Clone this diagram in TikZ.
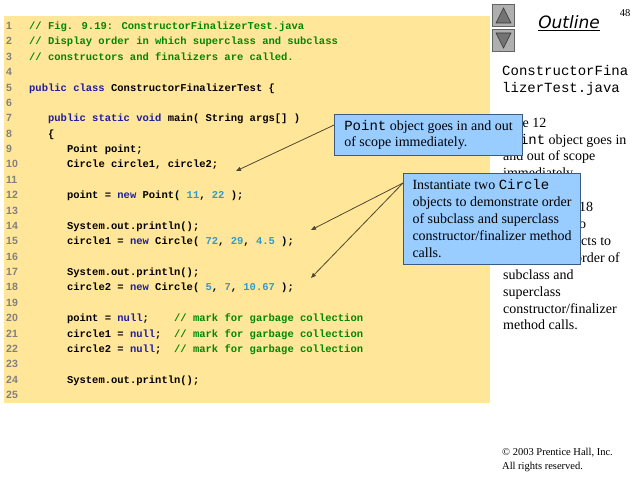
\documentclass[tikz,border=0pt]{standalone}
\usepackage{fontspec}
\setmainfont{Liberation Serif}
\newfontfamily\codefont{Liberation Mono}
\newfontfamily\linefont{Liberation Sans}
\newfontfamily\outfont{DejaVu Sans}
\usetikzlibrary{arrows.meta}

\definecolor{codebg}{RGB}{255,230,153}
\definecolor{cmtgreen}{RGB}{0,136,0}
\definecolor{kwblue}{RGB}{30,30,160}
\definecolor{numteal}{RGB}{51,153,204}
\definecolor{lnumgray}{RGB}{128,128,128}
\definecolor{calloutfill}{RGB}{153,204,255}
\definecolor{calloutedge}{RGB}{60,90,130}
\definecolor{arrowcol}{RGB}{80,72,48}
\definecolor{btnface}{RGB}{175,175,175}
\definecolor{btnedge}{RGB}{100,100,100}
\definecolor{btnmark}{RGB}{115,115,115}

\newcommand{\kw}[1]{\textcolor{kwblue}{#1}}
\newcommand{\cm}[1]{\textcolor{cmtgreen}{#1}}
\newcommand{\nm}[1]{\textcolor{numteal}{#1}}
\newcommand{\mono}[1]{{\codefont #1}}

\tikzset{
  codeline/.style={anchor=base west, inner sep=0pt, font=\codefont\fontsize{10.5}{12}\selectfont\bfseries},
  lnum/.style={anchor=base west, inner sep=0pt, text=lnumgray, font=\linefont\fontsize{10.5}{12}\selectfont\bfseries},
  callout/.style={draw=calloutedge, fill=calloutfill, line width=1pt, align=left, inner xsep=8.5pt, inner ysep=0pt, anchor=north west, font=\fontsize{14}{16.5}\selectfont},
  pointer/.style={draw=arrowcol, line width=0.8pt, -{Triangle[length=5pt,width=4pt]}},
  btnbox/.style={fill=btnface, draw=btnedge, line width=1.2pt},
  btnarrow/.style={fill=btnmark, draw=black!80, line width=0.6pt},
}

\begin{document}
\begin{tikzpicture}[x=1pt,y=-1pt]
    \useasboundingbox (0,0) rectangle (638,478);
    \fill[white] (0,0) rectangle (638,478);

    % code panel
    \fill[codebg] (4,16) rectangle (490,403);

    \foreach \n in {1,...,25}
        \node[lnum] (num\n) at (6,{29.6+(\n-1)*15.375}) {\n};

    \node[codeline] (line1) at (29,29.6) {\cm{// Fig. 9.19: ConstructorFinalizerTest.java}};
    \node[codeline] (line2) at (29,44.975) {\cm{// Display order in which superclass and subclass}};
    \node[codeline] (line3) at (29,60.35) {\cm{// constructors and finalizers are called.}};
    \node[codeline] (line5) at (29,91.1) {\kw{public class} ConstructorFinalizerTest \{};
    \node[codeline] (line7) at (47.9,121.85) {\kw{public static void} main( String args[] )};
    \node[codeline] (line8) at (47.9,137.225) {\{};
    \node[codeline] (line9) at (66.8,152.6) {Point point;};
    \node[codeline] (line10) at (66.8,167.975) {Circle circle1, circle2;};
    \node[codeline] (line12) at (66.8,198.725) {point = \kw{new} Point( \nm{11}, \nm{22} );};
    \node[codeline] (line14) at (66.8,229.475) {System.out.println();};
    \node[codeline] (line15) at (66.8,244.85) {circle1 = \kw{new} Circle( \nm{72}, \nm{29}, \nm{4.5} );};
    \node[codeline] (line17) at (66.8,275.6) {System.out.println();};
    \node[codeline] (line18) at (66.8,290.975) {circle2 = \kw{new} Circle( \nm{5}, \nm{7}, \nm{10.67} );};
    \node[codeline] (line20) at (66.8,321.725) {point = \kw{null};~~~~\cm{// mark for garbage collection}};
    \node[codeline] (line21) at (66.8,337.1) {circle1 = \kw{null};~~\cm{// mark for garbage collection}};
    \node[codeline] (line22) at (66.8,352.475) {circle2 = \kw{null};~~\cm{// mark for garbage collection}};
    \node[codeline] (line24) at (66.8,383.225) {System.out.println();};

    % outline header
    \draw[btnbox] (492.5,4.5) rectangle (514.5,26.5);
    \draw[btnarrow] (503.5,8) -- (511,23) -- (496,23) -- cycle;
    \draw[btnbox] (492.5,29.5) rectangle (514.5,51.5);
    \draw[btnarrow] (496,33) -- (511,33) -- (503.5,48) -- cycle;
    \node[anchor=base, inner sep=0pt, font=\outfont\itshape\fontsize{17}{20}\selectfont] (outline) at (569,29) {\underline{Outline}};
    \node[inner sep=0pt, font=\fontsize{10.5}{12}\selectfont] (page) at (625,13) {48};

    % base anchor sits on the last line
    \node[anchor=base west, inner sep=0pt, align=left, font=\codefont\fontsize{14}{16.5}\selectfont] (file) at (502,92.5) {ConstructorFina\\lizerTest.java};

    \node[anchor=base west, inner sep=0pt, align=left, font=\fontsize{14}{16.9}\selectfont] (notes) at (503,330) {Line 12\\ \mono{Point} object goes in\\ and out of scope\\ immediately.\\[16.9pt] Lines 15 and 18\\ Instantiate two\\ \mono{Circle} objects to\\ demonstrate order of\\ subclass and\\ superclass\\ constructor/finalizer\\ method calls.};

    \node[anchor=base west, inner sep=0pt, align=left, font=\fontsize{10.5}{14}\selectfont] (copy) at (502,470) {\textcopyright\ 2003 Prentice Hall, Inc.\\ All rights reserved.};

    % callouts
    \node[callout, minimum width=188pt, minimum height=41pt] (c1) at (334,114) {\mono{Point} object goes in and out\\ of scope immediately.};
    \node[callout, minimum width=177pt, minimum height=91pt, font=\fontsize{14}{17}\selectfont] (c2) at (403,173) {Instantiate two \mono{Circle}\\ objects to demonstrate order\\ of subclass and superclass\\ constructor/finalizer method\\ calls.};

    \coordinate (tip1) at (236,171);
    \coordinate (tip2) at (311,230);
    \coordinate (tip3) at (311,278);
    \draw[pointer] (c1.174) -- (tip1);
    \draw[pointer] (c2.158) -- (tip2);
    \draw[pointer] (c2.158) -- (tip3);

\end{tikzpicture}
\end{document}
